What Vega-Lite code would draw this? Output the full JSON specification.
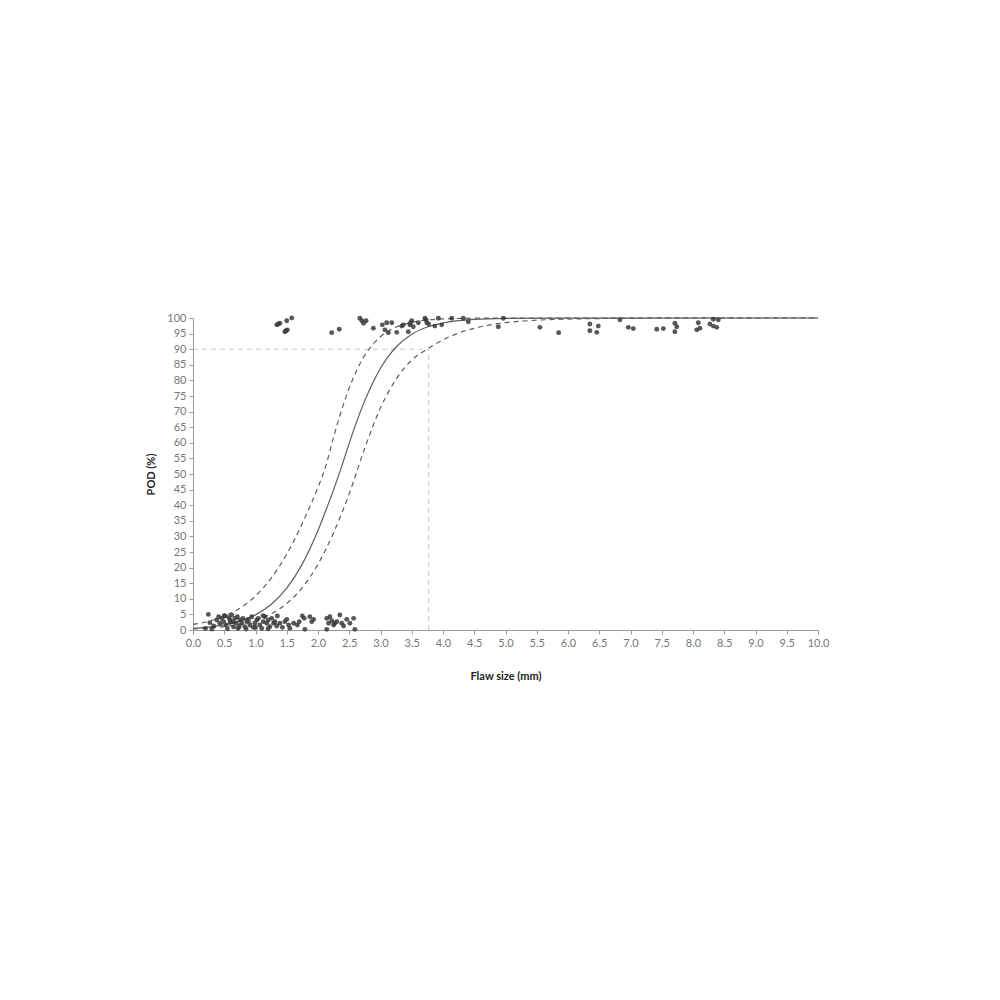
{
  "$schema": "https://vega.github.io/schema/vega-lite/v6.json",
  "width": 625,
  "height": 312,
  "autosize": {"type": "none"},
  "padding": {"left": 193, "top": 318, "right": 182, "bottom": 370},
  "background": "white",
  "config": {
    "view": {"stroke": null},
    "font": "Lato",
    "axis": {
      "grid": false,
      "domainColor": "#9a9a9a",
      "tickColor": "#9a9a9a",
      "tickSize": 4,
      "labelColor": "#777777",
      "labelFontSize": 11,
      "labelFont": "Lato",
      "labelOverlap": false,
      "labelFlush": false,
      "labelPadding": 3,
      "titleFont": "Lato",
      "titleFontSize": 11,
      "titleColor": "#222222",
      "titleFontWeight": "bold"
    },
    "axisX": {"titlePadding": 22},
    "axisY": {"titlePadding": 10}
  },
  "datasets": {
    "curves": [
      {"x": 0, "pod": 0.55, "curve": "POD"},
      {"x": 0.25, "pod": 0.95, "curve": "POD"},
      {"x": 0.5, "pod": 1.65, "curve": "POD"},
      {"x": 0.75, "pod": 2.84, "curve": "POD"},
      {"x": 1.0, "pod": 4.84, "curve": "POD"},
      {"x": 1.25, "pod": 8.15, "curve": "POD"},
      {"x": 1.5, "pod": 13.4, "curve": "POD"},
      {"x": 1.75, "pod": 21.2, "curve": "POD"},
      {"x": 1.875, "pod": 26.2, "curve": "POD"},
      {"x": 2.0, "pod": 31.9, "curve": "POD"},
      {"x": 2.125, "pod": 38.3, "curve": "POD"},
      {"x": 2.25, "pod": 45.0, "curve": "POD"},
      {"x": 2.375, "pod": 52.2, "curve": "POD"},
      {"x": 2.5, "pod": 59.9, "curve": "POD"},
      {"x": 2.625, "pod": 67.1, "curve": "POD"},
      {"x": 2.75, "pod": 73.6, "curve": "POD"},
      {"x": 2.875, "pod": 79.2, "curve": "POD"},
      {"x": 3.0, "pod": 83.9, "curve": "POD"},
      {"x": 3.125, "pod": 87.7, "curve": "POD"},
      {"x": 3.25, "pod": 90.7, "curve": "POD"},
      {"x": 3.5, "pod": 94.8, "curve": "POD"},
      {"x": 3.75, "pod": 97.1, "curve": "POD"},
      {"x": 4.0, "pod": 98.4, "curve": "POD"},
      {"x": 4.5, "pod": 99.55, "curve": "POD"},
      {"x": 5.0, "pod": 99.87, "curve": "POD"},
      {"x": 6.0, "pod": 99.99, "curve": "POD"},
      {"x": 10.0, "pod": 100, "curve": "POD"},

      {"x": 0, "pod": 1.8, "curve": "upper"},
      {"x": 0.25, "pod": 2.8, "curve": "upper"},
      {"x": 0.5, "pod": 4.5, "curve": "upper"},
      {"x": 0.75, "pod": 7.0, "curve": "upper"},
      {"x": 1.0, "pod": 10.9, "curve": "upper"},
      {"x": 1.25, "pod": 16.6, "curve": "upper"},
      {"x": 1.5, "pod": 24.3, "curve": "upper"},
      {"x": 1.625, "pod": 29.0, "curve": "upper"},
      {"x": 1.75, "pod": 34.2, "curve": "upper"},
      {"x": 1.875, "pod": 39.8, "curve": "upper"},
      {"x": 2.0, "pod": 45.7, "curve": "upper"},
      {"x": 2.125, "pod": 52.6, "curve": "upper"},
      {"x": 2.25, "pod": 61.9, "curve": "upper"},
      {"x": 2.375, "pod": 70.3, "curve": "upper"},
      {"x": 2.5, "pod": 77.6, "curve": "upper"},
      {"x": 2.625, "pod": 83.5, "curve": "upper"},
      {"x": 2.75, "pod": 88.1, "curve": "upper"},
      {"x": 3.0, "pod": 94.0, "curve": "upper"},
      {"x": 3.25, "pod": 97.1, "curve": "upper"},
      {"x": 3.5, "pod": 98.6, "curve": "upper"},
      {"x": 3.75, "pod": 99.35, "curve": "upper"},
      {"x": 4.0, "pod": 99.7, "curve": "upper"},
      {"x": 4.5, "pod": 99.93, "curve": "upper"},
      {"x": 5.0, "pod": 100, "curve": "upper"},
      {"x": 10.0, "pod": 100, "curve": "upper"},

      {"x": 0, "pod": 0.38, "curve": "lower"},
      {"x": 0.25, "pod": 0.64, "curve": "lower"},
      {"x": 0.5, "pod": 1.09, "curve": "lower"},
      {"x": 0.75, "pod": 1.83, "curve": "lower"},
      {"x": 1.0, "pod": 3.08, "curve": "lower"},
      {"x": 1.25, "pod": 5.17, "curve": "lower"},
      {"x": 1.5, "pod": 8.5, "curve": "lower"},
      {"x": 1.75, "pod": 13.6, "curve": "lower"},
      {"x": 2.0, "pod": 21.1, "curve": "lower"},
      {"x": 2.25, "pod": 31.2, "curve": "lower"},
      {"x": 2.5, "pod": 43.7, "curve": "lower"},
      {"x": 2.75, "pod": 58.4, "curve": "lower"},
      {"x": 3.0, "pod": 71.2, "curve": "lower"},
      {"x": 3.25, "pod": 80.4, "curve": "lower"},
      {"x": 3.5, "pod": 86.5, "curve": "lower"},
      {"x": 3.75, "pod": 90.1, "curve": "lower"},
      {"x": 4.0, "pod": 93.0, "curve": "lower"},
      {"x": 4.25, "pod": 95.2, "curve": "lower"},
      {"x": 4.5, "pod": 96.7, "curve": "lower"},
      {"x": 4.75, "pod": 97.8, "curve": "lower"},
      {"x": 5.0, "pod": 98.5, "curve": "lower"},
      {"x": 5.5, "pod": 99.3, "curve": "lower"},
      {"x": 6.0, "pod": 99.65, "curve": "lower"},
      {"x": 7.0, "pod": 99.9, "curve": "lower"},
      {"x": 8.0, "pod": 99.97, "curve": "lower"},
      {"x": 10.0, "pod": 100, "curve": "lower"}
    ],
    "refs": [
      {"x": 0, "x2": 3.77, "pod": 90, "pod2": 90},
      {"x": 3.77, "x2": 3.77, "pod": 0, "pod2": 90}
    ],
    "points": [
      {"x": 0.245, "pod": 5.0}, {"x": 0.27, "pod": 2.35}, {"x": 0.33, "pod": 1.28}, {"x": 0.38, "pod": 3.2},
      {"x": 0.41, "pod": 4.27}, {"x": 0.43, "pod": 2.14}, {"x": 0.46, "pod": 3.74}, {"x": 0.49, "pod": 2.67},
      {"x": 0.51, "pod": 4.49}, {"x": 0.53, "pod": 1.6}, {"x": 0.57, "pod": 4.06}, {"x": 0.59, "pod": 3.2},
      {"x": 0.62, "pod": 4.8}, {"x": 0.645, "pod": 2.67}, {"x": 0.67, "pod": 3.74}, {"x": 0.69, "pod": 2.14},
      {"x": 0.71, "pod": 4.27}, {"x": 0.74, "pod": 1.07}, {"x": 0.75, "pod": 3.2}, {"x": 0.78, "pod": 2.14},
      {"x": 0.8, "pod": 3.74}, {"x": 0.83, "pod": 1.07}, {"x": 0.86, "pod": 2.67}, {"x": 0.885, "pod": 3.42},
      {"x": 0.91, "pod": 1.6}, {"x": 0.94, "pod": 4.27}, {"x": 0.965, "pod": 0.85}, {"x": 0.99, "pod": 2.14},
      {"x": 1.02, "pod": 3.2}, {"x": 1.045, "pod": 3.74}, {"x": 1.07, "pod": 1.6}, {"x": 1.1, "pod": 0.53},
      {"x": 1.125, "pod": 2.67}, {"x": 1.15, "pod": 4.27}, {"x": 1.18, "pod": 2.14}, {"x": 1.205, "pod": 3.2},
      {"x": 1.23, "pod": 1.07}, {"x": 1.26, "pod": 3.74}, {"x": 1.29, "pod": 2.14}, {"x": 1.31, "pod": 2.67},
      {"x": 1.34, "pod": 1.28}, {"x": 1.39, "pod": 2.14}, {"x": 1.43, "pod": 0.85}, {"x": 1.47, "pod": 2.67},
      {"x": 1.5, "pod": 3.42}, {"x": 1.53, "pod": 1.6}, {"x": 1.55, "pod": 0.53}, {"x": 1.61, "pod": 2.14},
      {"x": 1.67, "pod": 1.6}, {"x": 1.7, "pod": 2.67}, {"x": 1.75, "pod": 4.49}, {"x": 1.78, "pod": 3.74},
      {"x": 1.79, "pod": 0.21}, {"x": 1.87, "pod": 4.27}, {"x": 1.9, "pod": 2.67}, {"x": 1.93, "pod": 3.42},
      {"x": 2.14, "pod": 3.74}, {"x": 2.17, "pod": 2.14}, {"x": 2.19, "pod": 4.27}, {"x": 2.22, "pod": 3.0},
      {"x": 2.25, "pod": 1.6}, {"x": 2.27, "pod": 2.14}, {"x": 2.3, "pod": 2.67}, {"x": 2.35, "pod": 4.8},
      {"x": 2.38, "pod": 2.14}, {"x": 2.41, "pod": 1.28}, {"x": 2.46, "pod": 3.42}, {"x": 2.51, "pod": 2.14},
      {"x": 2.57, "pod": 3.74}, {"x": 2.59, "pod": 0.21}, {"x": 2.14, "pod": 0.21},
      {"x": 0.2, "pod": 0.5}, {"x": 0.3, "pod": 0.3}, {"x": 0.55, "pod": 0.4}, {"x": 0.65, "pod": 1.0},
      {"x": 0.85, "pod": 0.3}, {"x": 1.0, "pod": 0.8}, {"x": 1.2, "pod": 0.4}, {"x": 1.35, "pod": 4.5},
      {"x": 0.72, "pod": 0.5}, {"x": 1.12, "pod": 4.6}, {"x": 0.5, "pod": 4.6}, {"x": 0.6, "pod": 2.5},

      {"x": 1.34, "pod": 97.8}, {"x": 1.365, "pod": 98.1}, {"x": 1.39, "pod": 98.3}, {"x": 1.47, "pod": 95.6},
      {"x": 1.49, "pod": 95.9}, {"x": 1.51, "pod": 96.2}, {"x": 1.5, "pod": 99.1}, {"x": 1.58, "pod": 100},
      {"x": 2.22, "pod": 95.3}, {"x": 2.34, "pod": 96.4},
      {"x": 2.67, "pod": 99.9}, {"x": 2.7, "pod": 99.1}, {"x": 2.73, "pod": 98.3}, {"x": 2.77, "pod": 99.1},
      {"x": 2.885, "pod": 96.7}, {"x": 3.03, "pod": 97.8}, {"x": 3.07, "pod": 96.2}, {"x": 3.1, "pod": 98.5},
      {"x": 3.18, "pod": 98.5}, {"x": 3.125, "pod": 95.3}, {"x": 3.26, "pod": 95.4}, {"x": 3.34, "pod": 97.4},
      {"x": 3.365, "pod": 97.8}, {"x": 3.445, "pod": 95.6}, {"x": 3.47, "pod": 97.8}, {"x": 3.48, "pod": 98.5},
      {"x": 3.5, "pod": 99.1}, {"x": 3.525, "pod": 97.2}, {"x": 3.605, "pod": 98.5}, {"x": 3.71, "pod": 99.9},
      {"x": 3.73, "pod": 99.4}, {"x": 3.74, "pod": 98.5}, {"x": 3.77, "pod": 98.1}, {"x": 3.87, "pod": 97.4},
      {"x": 3.925, "pod": 99.9}, {"x": 3.98, "pod": 97.8}, {"x": 4.14, "pod": 99.9}, {"x": 4.325, "pod": 99.9},
      {"x": 4.405, "pod": 98.8}, {"x": 4.885, "pod": 97.2}, {"x": 4.965, "pod": 99.9},
      {"x": 5.55, "pod": 97.0}, {"x": 5.85, "pod": 95.3}, {"x": 6.35, "pod": 98.1}, {"x": 6.35, "pod": 95.9},
      {"x": 6.485, "pod": 97.4}, {"x": 6.46, "pod": 95.4}, {"x": 6.83, "pod": 99.4}, {"x": 6.965, "pod": 97.0},
      {"x": 7.045, "pod": 96.6}, {"x": 7.42, "pod": 96.4}, {"x": 7.525, "pod": 96.6}, {"x": 7.71, "pod": 98.3},
      {"x": 7.71, "pod": 95.6}, {"x": 7.74, "pod": 97.2}, {"x": 8.06, "pod": 96.2}, {"x": 8.11, "pod": 96.7},
      {"x": 8.085, "pod": 98.5}, {"x": 8.27, "pod": 98.1}, {"x": 8.325, "pod": 97.4}, {"x": 8.38, "pod": 97.0},
      {"x": 8.325, "pod": 99.6}, {"x": 8.405, "pod": 99.4}
    ]
  },
  "encoding": {
    "x": {"field": "x", "type": "quantitative",
      "scale": {"domain": [0, 10], "nice": false, "zero": false},
      "axis": {"title": "Flaw size (mm)", "values": [0,0.5,1,1.5,2,2.5,3,3.5,4,4.5,5,5.5,6,6.5,7,7.5,8,8.5,9,9.5,10], "format": ".1f", "labelOverlap": false}},
    "y": {"field": "pod", "type": "quantitative",
      "scale": {"domain": [0, 100], "nice": false, "zero": false},
      "axis": {"title": "POD (%)", "values": [0,5,10,15,20,25,30,35,40,45,50,55,60,65,70,75,80,85,90,95,100], "labelOverlap": false}}
  },
  "layer": [
    {
      "data": {"name": "refs"},
      "mark": {"type": "rule", "color": "#c8c8c8", "strokeDash": [5, 4], "strokeWidth": 1},
      "encoding": {
        "x2": {"field": "x2"},
        "y2": {"field": "pod2"}
      }
    },
    {
      "data": {"name": "curves"},
      "transform": [{"filter": "datum.curve !== 'POD'"}],
      "mark": {"type": "line", "color": "#5e5e5e", "strokeDash": [5, 4], "strokeWidth": 1.2, "interpolate": "monotone"},
      "encoding": {
        "detail": {"field": "curve"},
        "order": {"field": "x", "type": "quantitative"}
      }
    },
    {
      "data": {"name": "curves"},
      "transform": [{"filter": "datum.curve === 'POD'"}],
      "mark": {"type": "line", "color": "#5e5e5e", "strokeWidth": 1.2, "interpolate": "monotone"},
      "encoding": {
        "order": {"field": "x", "type": "quantitative"}
      }
    },
    {
      "data": {"name": "points"},
      "mark": {"type": "circle", "color": "#3a3a3a", "opacity": 0.85, "size": 24},
      "encoding": {}
    }
  ]
}
